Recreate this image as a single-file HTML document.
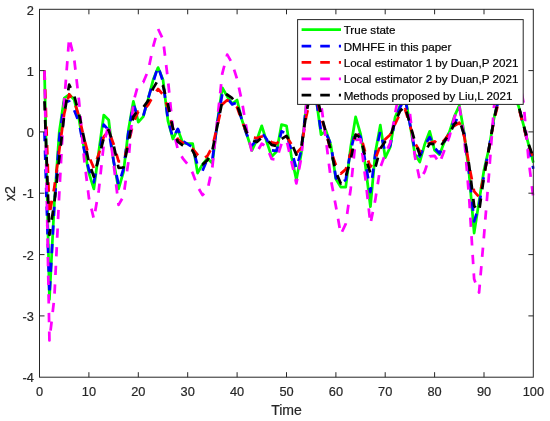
<!DOCTYPE html>
<html><head><meta charset="utf-8"><title>x2 estimation plot</title>
<style>html,body{margin:0;padding:0;background:#fff;overflow:hidden}body{width:550px;height:421px}</style></head>
<body>
<svg width="550" height="421" viewBox="0 0 550 421" style="display:block;font-family:'Liberation Sans',sans-serif">
<rect x="0" y="0" width="550" height="421" fill="#ffffff"/>
<defs><clipPath id="ax"><rect x="38.0" y="7.8" width="496.8" height="370.9"/></clipPath></defs>
<g clip-path="url(#ax)" fill="none" stroke-linejoin="round" stroke-width="2.75">
<polyline stroke="#00ff00" points="44.49,70.62 49.43,299.33 54.37,202.45 59.30,131.93 64.24,98.21 69.18,94.53 74.12,99.44 79.06,119.67 84.00,147.88 88.94,173.02 93.87,188.96 98.81,151.55 103.75,115.07 108.69,119.98 113.63,161.37 118.57,188.96 123.50,171.79 128.44,130.09 133.38,101.27 138.32,122.12 143.26,116.60 148.20,98.82 153.14,79.81 158.07,67.55 163.01,79.81 167.95,120.90 172.89,138.98 177.83,129.48 182.77,142.97 187.70,143.58 192.64,143.58 197.58,173.02 202.52,164.43 207.46,158.30 212.40,163.20 217.34,122.12 222.27,87.79 227.21,96.37 232.15,103.73 237.09,100.05 242.03,120.28 246.97,135.00 251.91,150.33 256.84,139.90 261.78,125.80 266.72,141.74 271.66,156.46 276.60,151.55 281.54,124.58 286.48,125.80 291.41,156.46 296.35,179.76 301.29,153.39 306.23,104.95 311.17,82.88 316.11,98.21 321.04,134.69 325.98,130.71 330.92,145.42 335.86,179.15 340.80,187.12 345.74,187.12 350.68,147.26 355.61,116.91 360.55,133.77 365.49,166.27 370.43,206.74 375.37,152.17 380.31,125.19 385.25,157.69 390.18,147.26 395.12,117.22 400.06,105.57 405.00,95.14 409.94,123.96 414.88,154.01 419.81,161.98 424.75,144.20 429.69,131.32 434.63,150.33 439.57,154.62 444.51,141.44 449.45,131.93 454.38,116.30 459.32,105.57 464.26,133.77 469.20,174.86 474.14,233.11 479.08,201.22 484.01,169.95 488.95,148.49 493.89,119.06 498.83,96.37 503.77,89.01 508.71,89.01 513.65,95.14 518.58,106.18 523.52,125.19 528.46,144.20 533.40,162.59"/>
<polyline stroke="#0000ff" stroke-dasharray="9.3 9.34" points="44.49,131.93 49.43,295.04 54.37,205.51 59.30,138.07 64.24,101.27 69.18,101.27 74.12,109.86 79.06,122.74 84.00,149.10 88.94,169.95 93.87,182.21 98.81,156.46 103.75,124.58 108.69,130.09 113.63,161.37 118.57,184.67 123.50,168.72 128.44,131.93 133.38,104.34 138.32,117.83 143.26,115.99 148.20,98.21 153.14,82.27 158.07,66.32 163.01,81.65 167.95,119.67 172.89,138.07 177.83,128.87 182.77,141.13 187.70,144.20 192.64,147.26 197.58,165.66 202.52,170.87 207.46,158.91 212.40,159.53 217.34,122.74 222.27,93.92 227.21,98.21 232.15,104.34 237.09,102.50 242.03,120.90 246.97,135.00 251.91,145.42 256.84,139.90 261.78,132.55 266.72,139.29 271.66,150.33 276.60,150.94 281.54,131.32 286.48,133.77 291.41,150.33 296.35,168.72 301.29,150.33 306.23,106.18 311.17,85.95 316.11,98.21 321.04,131.93 325.98,133.16 330.92,144.20 335.86,177.92 340.80,183.44 345.74,179.76 350.68,150.33 355.61,130.71 360.55,136.84 365.49,162.59 370.43,192.02 375.37,153.39 380.31,131.32 385.25,152.78 390.18,145.42 395.12,119.67 400.06,107.41 405.00,98.21 409.94,123.96 414.88,150.33 419.81,156.46 424.75,145.42 429.69,137.15 434.63,147.88 439.57,153.39 444.51,141.74 449.45,133.16 454.38,119.67 459.32,120.90 464.26,133.77 469.20,173.63 474.14,221.46 479.08,205.51 484.01,174.86 488.95,148.49 493.89,119.67 498.83,98.21 503.77,89.01 508.71,89.01 513.65,95.14 518.58,106.18 523.52,125.80 528.46,146.04 533.40,168.72"/>
<polyline stroke="#ff0000" stroke-dasharray="9.3 9.34" points="44.49,70.62 49.43,214.71 54.37,187.12 59.30,150.33 64.24,113.54 69.18,94.22 74.12,100.66 79.06,116.60 84.00,138.07 88.94,156.46 93.87,168.11 98.81,154.01 103.75,136.84 108.69,130.71 113.63,144.20 118.57,161.37 123.50,161.37 128.44,143.58 133.38,122.43 138.32,111.39 143.26,110.47 148.20,104.95 153.14,95.76 158.07,89.01 163.01,94.53 167.95,107.41 172.89,128.87 177.83,139.29 182.77,142.97 187.70,145.42 192.64,148.80 197.58,154.62 202.52,159.53 207.46,155.85 212.40,146.65 217.34,125.80 222.27,104.34 227.21,100.05 232.15,103.11 237.09,107.41 242.03,121.51 246.97,133.16 251.91,137.45 256.84,138.07 261.78,136.53 266.72,137.45 271.66,142.36 276.60,143.58 281.54,138.37 286.48,136.53 291.41,144.20 296.35,153.09 301.29,147.88 306.23,116.60 311.17,95.14 316.11,95.14 321.04,116.91 325.98,132.55 330.92,151.25 335.86,165.04 340.80,173.63 345.74,169.34 350.68,153.09 355.61,135.00 360.55,134.69 365.49,153.39 370.43,166.88 375.37,158.91 380.31,145.42 385.25,139.29 390.18,134.69 395.12,123.96 400.06,113.54 405.00,109.25 409.94,125.19 414.88,142.97 419.81,151.25 424.75,146.65 429.69,142.97 434.63,141.44 439.57,145.42 444.51,139.90 449.45,133.77 454.38,125.80 459.32,122.74 464.26,136.84 469.20,165.66 474.14,191.41 479.08,196.93 484.01,176.08 488.95,149.10 493.89,120.90 498.83,101.27 503.77,92.08 508.71,89.01 513.65,95.14 518.58,107.41 523.52,126.41 528.46,145.42 533.40,157.69"/>
<polyline stroke="#ff00ff" stroke-dasharray="9.3 9.34" points="44.49,70.62 49.43,340.41 54.37,297.49 59.30,193.25 64.24,101.27 69.18,37.81 74.12,58.35 79.06,101.27 84.00,157.69 88.94,198.16 93.87,219.00 98.81,190.18 103.75,144.20 108.69,123.96 113.63,163.82 118.57,204.90 123.50,196.32 128.44,161.37 133.38,101.89 138.32,84.11 143.26,82.27 148.20,70.62 153.14,46.70 158.07,28.92 163.01,39.35 167.95,79.81 172.89,128.87 177.83,149.41 182.77,158.30 187.70,164.43 192.64,173.02 197.58,186.51 202.52,195.09 207.46,190.18 212.40,166.88 217.34,119.67 222.27,73.68 227.21,54.67 232.15,63.26 237.09,79.20 242.03,101.89 246.97,131.32 251.91,152.17 256.84,152.17 261.78,143.58 266.72,146.96 271.66,158.91 276.60,159.53 281.54,143.58 286.48,139.90 291.41,161.37 296.35,183.44 301.29,157.69 306.23,104.95 311.17,76.75 316.11,76.75 321.04,103.73 325.98,140.21 330.92,179.76 335.86,206.13 340.80,234.33 345.74,223.91 350.68,188.96 355.61,139.90 360.55,139.29 365.49,179.15 370.43,223.91 375.37,199.38 380.31,167.50 385.25,154.01 390.18,142.97 395.12,113.54 400.06,87.17 405.00,76.75 409.94,113.54 414.88,156.46 419.81,180.37 424.75,171.48 429.69,156.46 434.63,155.85 439.57,163.20 444.51,150.02 449.45,136.53 454.38,117.52 459.32,106.18 464.26,137.76 469.20,198.77 474.14,279.09 479.08,292.58 484.01,235.56 488.95,174.86 493.89,107.41 498.83,76.75 503.77,70.62 508.71,70.62 513.65,70.62 518.58,76.75 523.52,102.50 528.46,158.91 533.40,198.16"/>
<polyline stroke="#000000" stroke-dasharray="9.3 9.34" points="44.49,101.27 49.43,234.95 54.37,202.45 59.30,157.69 64.24,114.76 69.18,84.72 74.12,95.14 79.06,114.15 84.00,138.07 88.94,162.59 93.87,176.69 98.81,157.69 103.75,138.07 108.69,130.09 113.63,145.12 118.57,167.80 123.50,167.50 128.44,142.36 133.38,116.60 138.32,109.55 143.26,107.41 148.20,100.66 153.14,88.40 158.07,80.12 163.01,85.95 167.95,104.34 172.89,128.25 177.83,141.74 182.77,145.42 187.70,148.18 192.64,150.63 197.58,160.75 202.52,164.43 207.46,160.14 212.40,150.33 217.34,125.80 222.27,101.27 227.21,94.53 232.15,98.21 237.09,104.95 242.03,119.67 246.97,133.16 251.91,139.90 256.84,142.05 261.78,137.45 266.72,139.29 271.66,144.81 276.60,146.04 281.54,138.98 286.48,135.92 291.41,142.97 296.35,154.62 301.29,147.26 306.23,113.54 311.17,89.01 316.11,92.08 321.04,114.46 325.98,132.55 330.92,150.33 335.86,172.10 340.80,183.44 345.74,176.69 350.68,159.53 355.61,134.69 360.55,137.76 365.49,157.69 370.43,173.32 375.37,167.50 380.31,148.49 385.25,141.44 390.18,137.15 395.12,121.51 400.06,111.09 405.00,106.18 409.94,123.96 414.88,141.44 419.81,154.62 424.75,152.17 429.69,143.58 434.63,144.20 439.57,147.57 444.51,140.82 449.45,134.08 454.38,123.96 459.32,119.67 464.26,135.31 469.20,165.66 474.14,205.82 479.08,211.65 484.01,176.08 488.95,148.49 493.89,119.67 498.83,98.21 503.77,89.01 508.71,89.01 513.65,95.14 518.58,105.57 523.52,124.58 528.46,143.58 533.40,157.69"/>
</g>
<g stroke="#262626" stroke-width="1.0" fill="none">
<rect x="39.5" y="9.3" width="493.8" height="367.9"/>
<line x1="88.9" y1="377.2" x2="88.9" y2="372.2"/>
<line x1="88.9" y1="9.3" x2="88.9" y2="14.3"/>
<line x1="138.3" y1="377.2" x2="138.3" y2="372.2"/>
<line x1="138.3" y1="9.3" x2="138.3" y2="14.3"/>
<line x1="187.7" y1="377.2" x2="187.7" y2="372.2"/>
<line x1="187.7" y1="9.3" x2="187.7" y2="14.3"/>
<line x1="237.1" y1="377.2" x2="237.1" y2="372.2"/>
<line x1="237.1" y1="9.3" x2="237.1" y2="14.3"/>
<line x1="286.5" y1="377.2" x2="286.5" y2="372.2"/>
<line x1="286.5" y1="9.3" x2="286.5" y2="14.3"/>
<line x1="335.9" y1="377.2" x2="335.9" y2="372.2"/>
<line x1="335.9" y1="9.3" x2="335.9" y2="14.3"/>
<line x1="385.2" y1="377.2" x2="385.2" y2="372.2"/>
<line x1="385.2" y1="9.3" x2="385.2" y2="14.3"/>
<line x1="434.6" y1="377.2" x2="434.6" y2="372.2"/>
<line x1="434.6" y1="9.3" x2="434.6" y2="14.3"/>
<line x1="484.0" y1="377.2" x2="484.0" y2="372.2"/>
<line x1="484.0" y1="9.3" x2="484.0" y2="14.3"/>
<line x1="39.5" y1="315.9" x2="44.5" y2="315.9"/>
<line x1="533.4" y1="315.9" x2="528.4" y2="315.9"/>
<line x1="39.5" y1="254.6" x2="44.5" y2="254.6"/>
<line x1="533.4" y1="254.6" x2="528.4" y2="254.6"/>
<line x1="39.5" y1="193.2" x2="44.5" y2="193.2"/>
<line x1="533.4" y1="193.2" x2="528.4" y2="193.2"/>
<line x1="39.5" y1="131.9" x2="44.5" y2="131.9"/>
<line x1="533.4" y1="131.9" x2="528.4" y2="131.9"/>
<line x1="39.5" y1="70.6" x2="44.5" y2="70.6"/>
<line x1="533.4" y1="70.6" x2="528.4" y2="70.6"/>
</g>
<g font-size="12.8" fill="#262626" stroke="#262626" stroke-width="0.2">
<text x="39.5" y="396.1" text-anchor="middle">0</text>
<text x="88.9" y="396.1" text-anchor="middle">10</text>
<text x="138.3" y="396.1" text-anchor="middle">20</text>
<text x="187.7" y="396.1" text-anchor="middle">30</text>
<text x="237.1" y="396.1" text-anchor="middle">40</text>
<text x="286.5" y="396.1" text-anchor="middle">50</text>
<text x="335.9" y="396.1" text-anchor="middle">60</text>
<text x="385.2" y="396.1" text-anchor="middle">70</text>
<text x="434.6" y="396.1" text-anchor="middle">80</text>
<text x="484.0" y="396.1" text-anchor="middle">90</text>
<text x="533.4" y="396.1" text-anchor="middle">100</text>
<text x="33.8" y="382.4" text-anchor="end">-4</text>
<text x="33.8" y="321.1" text-anchor="end">-3</text>
<text x="33.8" y="259.8" text-anchor="end">-2</text>
<text x="33.8" y="198.4" text-anchor="end">-1</text>
<text x="33.8" y="137.1" text-anchor="end">0</text>
<text x="33.8" y="75.8" text-anchor="end">1</text>
<text x="33.8" y="14.5" text-anchor="end">2</text>
</g>
<text x="286.5" y="415.4" font-size="14.05" fill="#262626" stroke="#262626" stroke-width="0.2" text-anchor="middle">Time</text>
<text transform="translate(14.8,193.6) rotate(-90)" font-size="14.05" fill="#262626" stroke="#262626" stroke-width="0.2" text-anchor="middle">x2</text>
<rect x="297.6" y="19.6" width="225.6" height="84.8" fill="#ffffff" stroke="#262626" stroke-width="1.0"/>
<line x1="301.6" y1="29.6" x2="341.0" y2="29.6" stroke="#00ff00" stroke-width="2.75"/>
<text x="343.7" y="34.2" font-size="11.62" fill="#000000" stroke="#000000" stroke-width="0.2">True state</text>
<line x1="301.6" y1="46.0" x2="341.0" y2="46.0" stroke="#0000ff" stroke-width="2.75" stroke-dasharray="9.6 9.04"/>
<text x="343.7" y="50.6" font-size="11.62" fill="#000000" stroke="#000000" stroke-width="0.2">DMHFE in this paper</text>
<line x1="301.6" y1="62.4" x2="341.0" y2="62.4" stroke="#ff0000" stroke-width="2.75" stroke-dasharray="9.6 9.04"/>
<text x="343.7" y="67.0" font-size="11.62" fill="#000000" stroke="#000000" stroke-width="0.2">Local estimator 1 by Duan,P 2021</text>
<line x1="301.6" y1="78.8" x2="341.0" y2="78.8" stroke="#ff00ff" stroke-width="2.75" stroke-dasharray="9.6 9.04"/>
<text x="343.7" y="83.4" font-size="11.62" fill="#000000" stroke="#000000" stroke-width="0.2">Local estimator 2 by Duan,P 2021</text>
<line x1="301.6" y1="95.2" x2="341.0" y2="95.2" stroke="#000000" stroke-width="2.75" stroke-dasharray="9.6 9.04"/>
<text x="343.7" y="99.8" font-size="11.62" fill="#000000" stroke="#000000" stroke-width="0.2">Methods proposed by Liu,L 2021</text>
</svg>
</body></html>
